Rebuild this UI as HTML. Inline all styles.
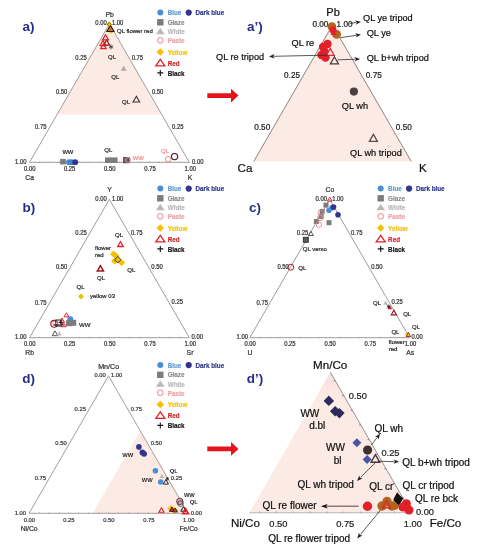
<!DOCTYPE html>
<html><head><meta charset="utf-8"><title>Ternary diagrams</title>
<style>html,body{margin:0;padding:0;background:#fff;} svg{display:block;} text{font-family:'Liberation Sans', Arial, sans-serif;}</style>
</head><body>
<svg width="478" height="550" viewBox="0 0 478 550">
<rect width="478" height="550" fill="#fff"/>
<polygon points="109.4,23.9 161.7,114.4 57.1,114.4" fill="#fcebe4"/>
<polygon points="29.5,162.3 189.3,162.3 109.4,23.9" fill="none" stroke="#a29c9c" stroke-width="1.0"/>
<line x1="39.5" y1="162.3" x2="39.5" y2="161.3" stroke="#8c8686" stroke-width="0.5"/>
<line x1="49.5" y1="162.3" x2="49.5" y2="161.3" stroke="#8c8686" stroke-width="0.5"/>
<line x1="59.5" y1="162.3" x2="59.5" y2="161.3" stroke="#8c8686" stroke-width="0.5"/>
<line x1="69.5" y1="162.3" x2="69.5" y2="161.3" stroke="#8c8686" stroke-width="0.5"/>
<line x1="79.4" y1="162.3" x2="79.4" y2="161.3" stroke="#8c8686" stroke-width="0.5"/>
<line x1="89.4" y1="162.3" x2="89.4" y2="161.3" stroke="#8c8686" stroke-width="0.5"/>
<line x1="99.4" y1="162.3" x2="99.4" y2="161.3" stroke="#8c8686" stroke-width="0.5"/>
<line x1="109.4" y1="162.3" x2="109.4" y2="161.3" stroke="#8c8686" stroke-width="0.5"/>
<line x1="119.4" y1="162.3" x2="119.4" y2="161.3" stroke="#8c8686" stroke-width="0.5"/>
<line x1="129.4" y1="162.3" x2="129.4" y2="161.3" stroke="#8c8686" stroke-width="0.5"/>
<line x1="139.4" y1="162.3" x2="139.4" y2="161.3" stroke="#8c8686" stroke-width="0.5"/>
<line x1="149.4" y1="162.3" x2="149.4" y2="161.3" stroke="#8c8686" stroke-width="0.5"/>
<line x1="159.3" y1="162.3" x2="159.3" y2="161.3" stroke="#8c8686" stroke-width="0.5"/>
<line x1="169.3" y1="162.3" x2="169.3" y2="161.3" stroke="#8c8686" stroke-width="0.5"/>
<line x1="179.3" y1="162.3" x2="179.3" y2="161.3" stroke="#8c8686" stroke-width="0.5"/>
<text x="95.3" y="25.2" font-size="6.3" fill="#333" textLength="11.4" lengthAdjust="spacingAndGlyphs" stroke="#333" stroke-width="0.22">0.00</text>
<text x="111.9" y="25.2" font-size="6.3" fill="#333" textLength="11.4" lengthAdjust="spacingAndGlyphs" stroke="#333" stroke-width="0.22">1.00</text>
<text x="75.3" y="59.5" font-size="6.3" fill="#333" textLength="11.4" lengthAdjust="spacingAndGlyphs" stroke="#333" stroke-width="0.22">0.25</text>
<text x="55.9" y="94.0" font-size="6.3" fill="#333" textLength="11.4" lengthAdjust="spacingAndGlyphs" stroke="#333" stroke-width="0.22">0.50</text>
<text x="35.1" y="129.2" font-size="6.3" fill="#333" textLength="11.4" lengthAdjust="spacingAndGlyphs" stroke="#333" stroke-width="0.22">0.75</text>
<text x="15.0" y="163.8" font-size="6.3" fill="#333" textLength="11.4" lengthAdjust="spacingAndGlyphs" stroke="#333" stroke-width="0.22">1.00</text>
<text x="131.7" y="59.5" font-size="6.3" fill="#333" textLength="11.4" lengthAdjust="spacingAndGlyphs" stroke="#333" stroke-width="0.22">0.75</text>
<text x="151.9" y="93.8" font-size="6.3" fill="#333" textLength="11.4" lengthAdjust="spacingAndGlyphs" stroke="#333" stroke-width="0.22">0.50</text>
<text x="172.1" y="128.8" font-size="6.3" fill="#333" textLength="11.4" lengthAdjust="spacingAndGlyphs" stroke="#333" stroke-width="0.22">0.25</text>
<text x="192.1" y="163.6" font-size="6.3" fill="#333" textLength="11.4" lengthAdjust="spacingAndGlyphs" stroke="#333" stroke-width="0.22">0.00</text>
<text x="24.1" y="170.8" font-size="6.3" fill="#333" textLength="11.4" lengthAdjust="spacingAndGlyphs" stroke="#333" stroke-width="0.22">0.00</text>
<text x="63.9" y="170.8" font-size="6.3" fill="#333" textLength="11.4" lengthAdjust="spacingAndGlyphs" stroke="#333" stroke-width="0.22">0.25</text>
<text x="104.1" y="170.8" font-size="6.3" fill="#333" textLength="11.4" lengthAdjust="spacingAndGlyphs" stroke="#333" stroke-width="0.22">0.50</text>
<text x="144.3" y="170.8" font-size="6.3" fill="#333" textLength="11.4" lengthAdjust="spacingAndGlyphs" stroke="#333" stroke-width="0.22">0.75</text>
<text x="184.5" y="170.8" font-size="6.3" fill="#333" textLength="11.4" lengthAdjust="spacingAndGlyphs" stroke="#333" stroke-width="0.22">1.00</text>
<text x="109.6" y="17.0" font-size="6.8" fill="#333" text-anchor="middle" stroke="#333" stroke-width="0.22">Pb</text>
<text x="29.6" y="180.0" font-size="6.8" fill="#333" text-anchor="middle" stroke="#333" stroke-width="0.22">Ca</text>
<text x="190.0" y="180.0" font-size="6.8" fill="#333" text-anchor="middle" stroke="#333" stroke-width="0.22">K</text>
<circle cx="160.3" cy="12.6" r="3.0" fill="#4a8fd6" stroke="none" stroke-width="0"/>
<text x="167.7" y="15.3" font-size="6.3" fill="#5b9ad5" font-weight="bold" stroke="#5b9ad5" stroke-width="0.15">Blue</text>
<circle cx="188.7" cy="12.6" r="3.1" fill="#33348e" stroke="none" stroke-width="0"/>
<text x="195.5" y="15.3" font-size="6.3" fill="#2e3589" font-weight="bold" stroke="#2e3589" stroke-width="0.15">Dark blue</text>
<rect x="157.1" y="19.1" width="6.4" height="6.4" fill="#7c7c7c" stroke="none" stroke-width="0"/>
<text x="167.7" y="24.8" font-size="6.3" fill="#8a8a8a" font-weight="bold" stroke="#8a8a8a" stroke-width="0.15">Glaze</text>
<polygon points="160.3,27.9 164.7,34.3 155.9,34.3" fill="#b9b9b9" stroke="none" stroke-width="0"/>
<text x="167.7" y="34.1" font-size="6.3" fill="#b8b8b8" font-weight="bold" stroke="#b8b8b8" stroke-width="0.15">White</text>
<circle cx="160.3" cy="40.3" r="2.8" fill="none" stroke="#e8848a" stroke-width="1.0"/>
<text x="167.7" y="43.0" font-size="6.3" fill="#f0a0a2" font-weight="bold" stroke="#f0a0a2" stroke-width="0.15">Paste</text>
<polygon points="160.3,48.2 164.1,52.0 160.3,55.8 156.5,52.0" fill="#f5c000" stroke="none" stroke-width="0"/>
<text x="167.7" y="54.7" font-size="6.3" fill="#f0c010" font-weight="bold" stroke="#f0c010" stroke-width="0.15">Yellow</text>
<polygon points="160.3,59.4 164.8,65.8 155.8,65.8" fill="none" stroke="#e3202a" stroke-width="1.3"/>
<text x="167.7" y="65.5" font-size="6.3" fill="#d82028" font-weight="bold" stroke="#d82028" stroke-width="0.15">Red</text>
<path d="M157.3 72.9H163.3M160.3 69.9V75.9" stroke="#111" stroke-width="1.1"/>
<text x="167.7" y="75.6" font-size="6.3" fill="#111" font-weight="bold" stroke="#111" stroke-width="0.15">Black</text>
<text x="117.0" y="32.5" font-size="6.0" fill="#2a2a2a" stroke="#2a2a2a" stroke-width="0.22">QL flower red</text>
<text x="108.0" y="59.4" font-size="6.0" fill="#2a2a2a" stroke="#2a2a2a" stroke-width="0.22">QL</text>
<text x="111.3" y="79.1" font-size="6.0" fill="#2a2a2a" stroke="#2a2a2a" stroke-width="0.22">QL</text>
<text x="122.0" y="103.9" font-size="6.0" fill="#2a2a2a" stroke="#2a2a2a" stroke-width="0.22">QL</text>
<polygon points="123.7,65.4 126.8,70.7 120.6,70.7" fill="#b4adad" stroke="none" stroke-width="0" stroke-linejoin="miter"/>
<polygon points="136.4,96.3 139.7,102.0 133.1,102.0" fill="none" stroke="#3a3030" stroke-width="1.1" stroke-linejoin="miter"/>
<polygon points="105.5,34.7 108.5,39.9 102.5,39.9" fill="none" stroke="#e3202a" stroke-width="1.25" stroke-linejoin="miter"/>
<polygon points="103.0,40.5 106.0,45.7 100.0,45.7" fill="none" stroke="#e3202a" stroke-width="1.25" stroke-linejoin="miter"/>
<polygon points="106.6,39.9 109.6,45.1 103.6,45.1" fill="none" stroke="#9c1b24" stroke-width="1.25" stroke-linejoin="miter"/>
<polygon points="103.4,43.9 106.2,48.7 100.6,48.7" fill="none" stroke="#e3202a" stroke-width="1.2" stroke-linejoin="miter"/>
<path d="M111.0 44.4L111.0 49.4M113.2 45.6L108.8 48.1M113.2 48.1L108.8 45.6" stroke="#333" stroke-width="0.8"/>
<polygon points="109.2,21.2 112.2,24.2 109.2,27.2 106.2,24.2" fill="#f5c000" stroke="none" stroke-width="0"/>
<polygon points="111.3,29.5 113.6,31.8 111.3,34.1 109.0,31.8" fill="#f5c000" stroke="none" stroke-width="0"/>
<polygon points="110.4,25.3 114.0,31.5 106.8,31.5" fill="#c47a10" stroke="#3a1010" stroke-width="1.1" stroke-linejoin="miter"/>
<polygon points="109.3,22.6 111.3,24.6 109.3,26.6 107.3,24.6" fill="#f5c000" stroke="#222" stroke-width="0.5"/>
<text x="62.4" y="154.3" font-size="5.8" fill="#2a2a2a" stroke="#2a2a2a" stroke-width="0.22">WW</text>
<rect x="60.2" y="158.9" width="5.6" height="5.6" fill="#7c7c7c" stroke="none" stroke-width="0"/>
<circle cx="68.9" cy="162.2" r="2.9" fill="#4a8fd6" stroke="none" stroke-width="0"/>
<circle cx="71.4" cy="162.2" r="2.9" fill="#3f80cf" stroke="none" stroke-width="0"/>
<circle cx="75.2" cy="162.2" r="2.9" fill="#33348e" stroke="none" stroke-width="0"/>
<text x="104.3" y="152.4" font-size="6.0" fill="#2a2a2a" stroke="#2a2a2a" stroke-width="0.22">QL</text>
<rect x="105.0" y="157.4" width="12.6" height="5.6" fill="#7c7c7c"/>
<rect x="123.7" y="157.4" width="5.4" height="5.4" fill="#6a6a6a" stroke="#2a2a2a" stroke-width="0.8"/>
<circle cx="127.8" cy="160.1" r="2.7" fill="none" stroke="#e8848a" stroke-width="0.9"/>
<text x="132.7" y="160.4" font-size="5.8" fill="#f08a8a" stroke="#f08a8a" stroke-width="0.22">WW</text>
<text x="161.0" y="152.9" font-size="6.0" fill="#f08a8a" stroke="#f08a8a" stroke-width="0.22">QL</text>
<circle cx="168.3" cy="159.2" r="2.8" fill="none" stroke="#e8848a" stroke-width="1.0"/>
<circle cx="174.6" cy="156.6" r="3.1" fill="none" stroke="#3a1a1a" stroke-width="1.1"/>
<polygon points="207.3,93.2 231,93.2 231,88.8 238.5,95.6 231,102.4 231,98.0 207.3,98.0" fill="#e3141c"/>
<polygon points="332.5,25 411.3,161.5 253.7,161.5" fill="#fcebe4"/>
<line x1="332.5" y1="25.0" x2="253.7" y2="161.5" stroke="#7c6e6a" stroke-width="0.85"/>
<line x1="332.5" y1="25.0" x2="411.3" y2="161.5" stroke="#7c6e6a" stroke-width="0.85"/>
<text x="247.0" y="31.0" font-size="13.5" fill="#282d8c" font-weight="bold">a’)</text>
<text x="333.1" y="16.1" font-size="11.0" fill="#111" text-anchor="middle" stroke="#111" stroke-width="0.22">Pb</text>
<text x="312.4" y="26.6" font-size="8.2" fill="#222" stroke="#222" stroke-width="0.22">0.00</text>
<text x="336.6" y="26.6" font-size="8.2" fill="#222" stroke="#222" stroke-width="0.22">1.00</text>
<text x="300.0" y="78.2" font-size="8.2" fill="#222" text-anchor="end" stroke="#222" stroke-width="0.22">0.25</text>
<text x="270.2" y="130.3" font-size="8.2" fill="#222" text-anchor="end" stroke="#222" stroke-width="0.22">0.50</text>
<text x="365.8" y="78.4" font-size="8.2" fill="#222" stroke="#222" stroke-width="0.22">0.75</text>
<text x="395.8" y="129.7" font-size="8.2" fill="#222" stroke="#222" stroke-width="0.22">0.50</text>
<text x="237.6" y="172.2" font-size="11.6" fill="#111" stroke="#111" stroke-width="0.22">Ca</text>
<text x="419.0" y="172.0" font-size="11.6" fill="#111" stroke="#111" stroke-width="0.22">K</text>
<text x="363.0" y="21.0" font-size="9.2" fill="#111" stroke="#111" stroke-width="0.22">QL ye tripod</text>
<text x="366.7" y="36.0" font-size="9.2" fill="#111" stroke="#111" stroke-width="0.22">QL ye</text>
<text x="366.7" y="60.5" font-size="9.2" fill="#111" stroke="#111" stroke-width="0.22">QL b+wh tripod</text>
<text x="216.0" y="59.6" font-size="9.2" fill="#111" stroke="#111" stroke-width="0.22">QL re tripod</text>
<text x="291.6" y="46.0" font-size="9.2" fill="#111" stroke="#111" stroke-width="0.22">QL re</text>
<text x="341.8" y="109.2" font-size="9.2" fill="#111" stroke="#111" stroke-width="0.22">QL wh</text>
<text x="350.0" y="156.0" font-size="9.2" fill="#111" stroke="#111" stroke-width="0.22">QL wh tripod</text>
<circle cx="331.9" cy="26.6" r="4.4" fill="#b2651e" stroke="none" stroke-width="0"/>
<circle cx="336.6" cy="34.4" r="4.4" fill="#b2651e" stroke="none" stroke-width="0"/>
<circle cx="333.0" cy="30.0" r="3.6" fill="#e3202a" stroke="none" stroke-width="0"/>
<polygon points="333.4,29.9 336.4,35.1 330.4,35.1" fill="#e3202a" stroke="none" stroke-width="0" stroke-linejoin="miter"/>
<circle cx="327.5" cy="44.0" r="4.2" fill="#e3202a" stroke="none" stroke-width="0"/>
<circle cx="323.0" cy="47.0" r="4.2" fill="#e3202a" stroke="none" stroke-width="0"/>
<circle cx="324.5" cy="51.5" r="4.2" fill="#e3202a" stroke="none" stroke-width="0"/>
<circle cx="321.5" cy="55.0" r="4.2" fill="#e3202a" stroke="none" stroke-width="0"/>
<circle cx="325.5" cy="57.5" r="4.2" fill="#e3202a" stroke="none" stroke-width="0"/>
<polygon points="330.2,48.4 334.2,55.4 326.2,55.4" fill="#fbe5e5" stroke="#e3202a" stroke-width="1.2" stroke-linejoin="miter"/>
<polygon points="334.4,56.8 338.4,63.8 330.4,63.8" fill="none" stroke="#4a3a3a" stroke-width="1.3" stroke-linejoin="miter"/>
<circle cx="353.9" cy="91.6" r="4.1" fill="#4a4042" stroke="none" stroke-width="0"/>
<polygon points="373.4,134.4 377.4,141.4 369.4,141.4" fill="none" stroke="#5a4a4a" stroke-width="1.3" stroke-linejoin="miter"/>
<line x1="349.8" y1="23.5" x2="356.1" y2="22.5" stroke="#222" stroke-width="0.75"/>
<polygon points="361.0,21.7 355.9,24.7 356.8,22.4 355.2,20.4" fill="#222"/>
<line x1="340.4" y1="37.7" x2="356.1" y2="35.3" stroke="#222" stroke-width="0.75"/>
<polygon points="361.0,34.5 355.9,37.5 356.8,35.2 355.2,33.2" fill="#222"/>
<line x1="337.5" y1="59.9" x2="355.1" y2="59.2" stroke="#222" stroke-width="0.75"/>
<polygon points="360.1,59.0 354.7,61.4 355.8,59.2 354.5,57.0" fill="#222"/>
<line x1="328.0" y1="55.1" x2="274.0" y2="56.3" stroke="#222" stroke-width="0.75"/>
<polygon points="269.0,56.4 274.5,54.1 273.3,56.3 274.5,58.5" fill="#222"/>
<polygon points="29.5,337.7 189.3,337.7 109.4,199.3" fill="none" stroke="#a29c9c" stroke-width="1.0"/>
<line x1="39.5" y1="337.7" x2="39.5" y2="336.7" stroke="#8c8686" stroke-width="0.5"/>
<line x1="49.5" y1="337.7" x2="49.5" y2="336.7" stroke="#8c8686" stroke-width="0.5"/>
<line x1="59.5" y1="337.7" x2="59.5" y2="336.7" stroke="#8c8686" stroke-width="0.5"/>
<line x1="69.5" y1="337.7" x2="69.5" y2="336.7" stroke="#8c8686" stroke-width="0.5"/>
<line x1="79.4" y1="337.7" x2="79.4" y2="336.7" stroke="#8c8686" stroke-width="0.5"/>
<line x1="89.4" y1="337.7" x2="89.4" y2="336.7" stroke="#8c8686" stroke-width="0.5"/>
<line x1="99.4" y1="337.7" x2="99.4" y2="336.7" stroke="#8c8686" stroke-width="0.5"/>
<line x1="109.4" y1="337.7" x2="109.4" y2="336.7" stroke="#8c8686" stroke-width="0.5"/>
<line x1="119.4" y1="337.7" x2="119.4" y2="336.7" stroke="#8c8686" stroke-width="0.5"/>
<line x1="129.4" y1="337.7" x2="129.4" y2="336.7" stroke="#8c8686" stroke-width="0.5"/>
<line x1="139.4" y1="337.7" x2="139.4" y2="336.7" stroke="#8c8686" stroke-width="0.5"/>
<line x1="149.4" y1="337.7" x2="149.4" y2="336.7" stroke="#8c8686" stroke-width="0.5"/>
<line x1="159.3" y1="337.7" x2="159.3" y2="336.7" stroke="#8c8686" stroke-width="0.5"/>
<line x1="169.3" y1="337.7" x2="169.3" y2="336.7" stroke="#8c8686" stroke-width="0.5"/>
<line x1="179.3" y1="337.7" x2="179.3" y2="336.7" stroke="#8c8686" stroke-width="0.5"/>
<text x="95.3" y="200.6" font-size="6.3" fill="#333" textLength="11.4" lengthAdjust="spacingAndGlyphs" stroke="#333" stroke-width="0.22">0.00</text>
<text x="111.9" y="200.6" font-size="6.3" fill="#333" textLength="11.4" lengthAdjust="spacingAndGlyphs" stroke="#333" stroke-width="0.22">1.00</text>
<text x="75.3" y="234.9" font-size="6.3" fill="#333" textLength="11.4" lengthAdjust="spacingAndGlyphs" stroke="#333" stroke-width="0.22">0.25</text>
<text x="55.9" y="269.4" font-size="6.3" fill="#333" textLength="11.4" lengthAdjust="spacingAndGlyphs" stroke="#333" stroke-width="0.22">0.50</text>
<text x="35.1" y="304.6" font-size="6.3" fill="#333" textLength="11.4" lengthAdjust="spacingAndGlyphs" stroke="#333" stroke-width="0.22">0.75</text>
<text x="15.0" y="339.2" font-size="6.3" fill="#333" textLength="11.4" lengthAdjust="spacingAndGlyphs" stroke="#333" stroke-width="0.22">1.00</text>
<text x="131.1" y="234.9" font-size="6.3" fill="#333" textLength="11.4" lengthAdjust="spacingAndGlyphs" stroke="#333" stroke-width="0.22">0.75</text>
<text x="151.3" y="269.2" font-size="6.3" fill="#333" textLength="11.4" lengthAdjust="spacingAndGlyphs" stroke="#333" stroke-width="0.22">0.50</text>
<text x="171.5" y="304.2" font-size="6.3" fill="#333" textLength="11.4" lengthAdjust="spacingAndGlyphs" stroke="#333" stroke-width="0.22">0.25</text>
<text x="191.5" y="339.0" font-size="6.3" fill="#333" textLength="11.4" lengthAdjust="spacingAndGlyphs" stroke="#333" stroke-width="0.22">0.00</text>
<text x="24.1" y="346.2" font-size="6.3" fill="#333" textLength="11.4" lengthAdjust="spacingAndGlyphs" stroke="#333" stroke-width="0.22">0.00</text>
<text x="63.9" y="346.2" font-size="6.3" fill="#333" textLength="11.4" lengthAdjust="spacingAndGlyphs" stroke="#333" stroke-width="0.22">0.25</text>
<text x="104.1" y="346.2" font-size="6.3" fill="#333" textLength="11.4" lengthAdjust="spacingAndGlyphs" stroke="#333" stroke-width="0.22">0.50</text>
<text x="144.3" y="346.2" font-size="6.3" fill="#333" textLength="11.4" lengthAdjust="spacingAndGlyphs" stroke="#333" stroke-width="0.22">0.75</text>
<text x="184.5" y="346.2" font-size="6.3" fill="#333" textLength="11.4" lengthAdjust="spacingAndGlyphs" stroke="#333" stroke-width="0.22">1.00</text>
<text x="109.6" y="192.4" font-size="6.8" fill="#333" text-anchor="middle" stroke="#333" stroke-width="0.22">Y</text>
<text x="29.6" y="355.4" font-size="6.8" fill="#333" text-anchor="middle" stroke="#333" stroke-width="0.22">Rb</text>
<text x="190.0" y="355.4" font-size="6.8" fill="#333" text-anchor="middle" stroke="#333" stroke-width="0.22">Sr</text>
<circle cx="160.3" cy="188.6" r="3.0" fill="#4a8fd6" stroke="none" stroke-width="0"/>
<text x="167.7" y="191.3" font-size="6.3" fill="#5b9ad5" font-weight="bold" stroke="#5b9ad5" stroke-width="0.15">Blue</text>
<circle cx="188.7" cy="188.6" r="3.1" fill="#33348e" stroke="none" stroke-width="0"/>
<text x="195.5" y="191.3" font-size="6.3" fill="#2e3589" font-weight="bold" stroke="#2e3589" stroke-width="0.15">Dark blue</text>
<rect x="157.1" y="195.1" width="6.4" height="6.4" fill="#7c7c7c" stroke="none" stroke-width="0"/>
<text x="167.7" y="200.8" font-size="6.3" fill="#8a8a8a" font-weight="bold" stroke="#8a8a8a" stroke-width="0.15">Glaze</text>
<polygon points="160.3,203.9 164.7,210.3 155.9,210.3" fill="#b9b9b9" stroke="none" stroke-width="0"/>
<text x="167.7" y="210.1" font-size="6.3" fill="#b8b8b8" font-weight="bold" stroke="#b8b8b8" stroke-width="0.15">White</text>
<circle cx="160.3" cy="216.3" r="2.8" fill="none" stroke="#e8848a" stroke-width="1.0"/>
<text x="167.7" y="219.0" font-size="6.3" fill="#f0a0a2" font-weight="bold" stroke="#f0a0a2" stroke-width="0.15">Paste</text>
<polygon points="160.3,224.2 164.1,228.0 160.3,231.8 156.5,228.0" fill="#f5c000" stroke="none" stroke-width="0"/>
<text x="167.7" y="230.7" font-size="6.3" fill="#f0c010" font-weight="bold" stroke="#f0c010" stroke-width="0.15">Yellow</text>
<polygon points="160.3,235.4 164.8,241.8 155.8,241.8" fill="none" stroke="#e3202a" stroke-width="1.3"/>
<text x="167.7" y="241.5" font-size="6.3" fill="#d82028" font-weight="bold" stroke="#d82028" stroke-width="0.15">Red</text>
<path d="M157.3 248.9H163.3M160.3 245.9V251.9" stroke="#111" stroke-width="1.1"/>
<text x="167.7" y="251.6" font-size="6.3" fill="#111" font-weight="bold" stroke="#111" stroke-width="0.15">Black</text>
<text x="115.0" y="236.9" font-size="6.0" fill="#2a2a2a" stroke="#2a2a2a" stroke-width="0.22">QL</text>
<polygon points="120.4,241.7 123.2,246.5 117.6,246.5" fill="none" stroke="#e3202a" stroke-width="1.3" stroke-linejoin="miter"/>
<text x="95.0" y="249.9" font-size="6.0" fill="#2a2a2a" stroke="#2a2a2a" stroke-width="0.22">flower</text>
<text x="95.0" y="256.7" font-size="6.0" fill="#2a2a2a" stroke="#2a2a2a" stroke-width="0.22">red</text>
<polygon points="113.5,250.4 117.0,253.9 113.5,257.4 110.0,253.9" fill="#f5c000" stroke="none" stroke-width="0"/>
<polygon points="116.2,252.6 119.7,256.1 116.2,259.6 112.7,256.1" fill="#f5c000" stroke="none" stroke-width="0"/>
<polygon points="114.6,257.5 118.1,261.0 114.6,264.5 111.1,261.0" fill="#f5c000" stroke="none" stroke-width="0"/>
<polygon points="121.7,259.2 125.2,262.7 121.7,266.2 118.2,262.7" fill="#f5c000" stroke="none" stroke-width="0"/>
<polygon points="117.8,256.5 121.0,259.7 117.8,262.9 114.6,259.7" fill="#f5c000" stroke="#222" stroke-width="0.9"/>
<text x="127.3" y="272.0" font-size="6.0" fill="#2a2a2a" stroke="#2a2a2a" stroke-width="0.22">QL</text>
<polygon points="100.4,265.7 103.5,271.0 97.3,271.0" fill="none" stroke="#9c1b24" stroke-width="1.5" stroke-linejoin="miter"/>
<text x="97.0" y="279.6" font-size="6.0" fill="#2a2a2a" stroke="#2a2a2a" stroke-width="0.22">QL</text>
<text x="76.6" y="289.2" font-size="6.0" fill="#2a2a2a" stroke="#2a2a2a" stroke-width="0.22">QL</text>
<polygon points="81.0,293.5 84.0,296.5 81.0,299.5 78.0,296.5" fill="#f5c000" stroke="none" stroke-width="0"/>
<text x="90.0" y="298.4" font-size="6.0" fill="#2a2a2a" stroke="#2a2a2a" stroke-width="0.22">yellow 03</text>
<circle cx="70.3" cy="319.3" r="3.0" fill="#4a8fd6" stroke="none" stroke-width="0"/>
<rect x="66.0" y="320.2" width="6.0" height="6.0" fill="#7c7c7c" stroke="none" stroke-width="0"/>
<rect x="70.2" y="319.8" width="6.0" height="6.0" fill="#7c7c7c" stroke="none" stroke-width="0"/>
<polygon points="66.4,312.8 68.7,316.8 64.1,316.8" fill="none" stroke="#e3202a" stroke-width="1.0" stroke-linejoin="miter"/>
<circle cx="54.2" cy="323.8" r="3.4" fill="none" stroke="#9c1b24" stroke-width="1.1"/>
<circle cx="55.2" cy="323.5" r="2.4" fill="none" stroke="#e8848a" stroke-width="0.9"/>
<rect x="55.8" y="320.0" width="6.0" height="6.0" fill="none" stroke="#222" stroke-width="1.0"/>
<polygon points="62.0,318.0 64.5,322.3 59.5,322.3" fill="none" stroke="#e3202a" stroke-width="1.0" stroke-linejoin="miter"/>
<polygon points="63.4,322.4 65.9,326.7 60.9,326.7" fill="none" stroke="#e3202a" stroke-width="1.0" stroke-linejoin="miter"/>
<line x1="53.5" y1="324.9" x2="64.0" y2="324.9" stroke="#111" stroke-width="0.9"/>
<path d="M58.5 322.5H62.5M60.5 320.5V324.5" stroke="#111" stroke-width="0.8"/>
<text x="79.0" y="327.1" font-size="6.2" fill="#2a2a2a" stroke="#2a2a2a" stroke-width="0.22">WW</text>
<polygon points="55.0,330.9 57.8,335.7 52.2,335.7" fill="none" stroke="#555" stroke-width="1.0" stroke-linejoin="miter"/>
<polygon points="59.1,331.2 61.6,335.5 56.6,335.5" fill="#b9b9b9" stroke="none" stroke-width="0" stroke-linejoin="miter"/>
<polygon points="249.8,337.7 409.6,337.7 329.7,199.3" fill="none" stroke="#a29c9c" stroke-width="1.0"/>
<line x1="259.8" y1="337.7" x2="259.8" y2="336.7" stroke="#8c8686" stroke-width="0.5"/>
<line x1="269.8" y1="337.7" x2="269.8" y2="336.7" stroke="#8c8686" stroke-width="0.5"/>
<line x1="279.8" y1="337.7" x2="279.8" y2="336.7" stroke="#8c8686" stroke-width="0.5"/>
<line x1="289.8" y1="337.7" x2="289.8" y2="336.7" stroke="#8c8686" stroke-width="0.5"/>
<line x1="299.7" y1="337.7" x2="299.7" y2="336.7" stroke="#8c8686" stroke-width="0.5"/>
<line x1="309.7" y1="337.7" x2="309.7" y2="336.7" stroke="#8c8686" stroke-width="0.5"/>
<line x1="319.7" y1="337.7" x2="319.7" y2="336.7" stroke="#8c8686" stroke-width="0.5"/>
<line x1="329.7" y1="337.7" x2="329.7" y2="336.7" stroke="#8c8686" stroke-width="0.5"/>
<line x1="339.7" y1="337.7" x2="339.7" y2="336.7" stroke="#8c8686" stroke-width="0.5"/>
<line x1="349.7" y1="337.7" x2="349.7" y2="336.7" stroke="#8c8686" stroke-width="0.5"/>
<line x1="359.7" y1="337.7" x2="359.7" y2="336.7" stroke="#8c8686" stroke-width="0.5"/>
<line x1="369.7" y1="337.7" x2="369.7" y2="336.7" stroke="#8c8686" stroke-width="0.5"/>
<line x1="379.6" y1="337.7" x2="379.6" y2="336.7" stroke="#8c8686" stroke-width="0.5"/>
<line x1="389.6" y1="337.7" x2="389.6" y2="336.7" stroke="#8c8686" stroke-width="0.5"/>
<line x1="399.6" y1="337.7" x2="399.6" y2="336.7" stroke="#8c8686" stroke-width="0.5"/>
<text x="315.6" y="200.6" font-size="6.3" fill="#333" textLength="11.4" lengthAdjust="spacingAndGlyphs" stroke="#333" stroke-width="0.22">0.00</text>
<text x="332.2" y="200.6" font-size="6.3" fill="#333" textLength="11.4" lengthAdjust="spacingAndGlyphs" stroke="#333" stroke-width="0.22">1.00</text>
<text x="296.8" y="234.9" font-size="6.3" fill="#333" textLength="11.4" lengthAdjust="spacingAndGlyphs" stroke="#333" stroke-width="0.22">0.25</text>
<text x="277.4" y="269.4" font-size="6.3" fill="#333" textLength="11.4" lengthAdjust="spacingAndGlyphs" stroke="#333" stroke-width="0.22">0.50</text>
<text x="256.6" y="304.6" font-size="6.3" fill="#333" textLength="11.4" lengthAdjust="spacingAndGlyphs" stroke="#333" stroke-width="0.22">0.75</text>
<text x="236.5" y="339.2" font-size="6.3" fill="#333" textLength="11.4" lengthAdjust="spacingAndGlyphs" stroke="#333" stroke-width="0.22">1.00</text>
<text x="351.0" y="234.9" font-size="6.3" fill="#333" textLength="11.4" lengthAdjust="spacingAndGlyphs" stroke="#333" stroke-width="0.22">0.75</text>
<text x="371.2" y="269.2" font-size="6.3" fill="#333" textLength="11.4" lengthAdjust="spacingAndGlyphs" stroke="#333" stroke-width="0.22">0.50</text>
<text x="391.4" y="304.2" font-size="6.3" fill="#333" textLength="11.4" lengthAdjust="spacingAndGlyphs" stroke="#333" stroke-width="0.22">0.25</text>
<text x="411.4" y="339.0" font-size="6.3" fill="#333" textLength="11.4" lengthAdjust="spacingAndGlyphs" stroke="#333" stroke-width="0.22">0.00</text>
<text x="244.4" y="346.2" font-size="6.3" fill="#333" textLength="11.4" lengthAdjust="spacingAndGlyphs" stroke="#333" stroke-width="0.22">0.00</text>
<text x="284.2" y="346.2" font-size="6.3" fill="#333" textLength="11.4" lengthAdjust="spacingAndGlyphs" stroke="#333" stroke-width="0.22">0.25</text>
<text x="324.4" y="346.2" font-size="6.3" fill="#333" textLength="11.4" lengthAdjust="spacingAndGlyphs" stroke="#333" stroke-width="0.22">0.50</text>
<text x="364.6" y="346.2" font-size="6.3" fill="#333" textLength="11.4" lengthAdjust="spacingAndGlyphs" stroke="#333" stroke-width="0.22">0.75</text>
<text x="404.8" y="346.2" font-size="6.3" fill="#333" textLength="11.4" lengthAdjust="spacingAndGlyphs" stroke="#333" stroke-width="0.22">1.00</text>
<text x="329.9" y="192.4" font-size="6.8" fill="#333" text-anchor="middle" stroke="#333" stroke-width="0.22">Co</text>
<text x="249.9" y="355.4" font-size="6.8" fill="#333" text-anchor="middle" stroke="#333" stroke-width="0.22">U</text>
<text x="410.3" y="355.4" font-size="6.8" fill="#333" text-anchor="middle" stroke="#333" stroke-width="0.22">As</text>
<circle cx="380.7" cy="188.6" r="3.0" fill="#4a8fd6" stroke="none" stroke-width="0"/>
<text x="388.1" y="191.3" font-size="6.3" fill="#5b9ad5" font-weight="bold" stroke="#5b9ad5" stroke-width="0.15">Blue</text>
<circle cx="409.1" cy="188.6" r="3.1" fill="#33348e" stroke="none" stroke-width="0"/>
<text x="415.9" y="191.3" font-size="6.3" fill="#2e3589" font-weight="bold" stroke="#2e3589" stroke-width="0.15">Dark blue</text>
<rect x="377.5" y="195.1" width="6.4" height="6.4" fill="#7c7c7c" stroke="none" stroke-width="0"/>
<text x="388.1" y="200.8" font-size="6.3" fill="#8a8a8a" font-weight="bold" stroke="#8a8a8a" stroke-width="0.15">Glaze</text>
<polygon points="380.7,203.9 385.1,210.3 376.3,210.3" fill="#b9b9b9" stroke="none" stroke-width="0"/>
<text x="388.1" y="210.1" font-size="6.3" fill="#b8b8b8" font-weight="bold" stroke="#b8b8b8" stroke-width="0.15">White</text>
<circle cx="380.7" cy="216.3" r="2.8" fill="none" stroke="#e8848a" stroke-width="1.0"/>
<text x="388.1" y="219.0" font-size="6.3" fill="#f0a0a2" font-weight="bold" stroke="#f0a0a2" stroke-width="0.15">Paste</text>
<polygon points="380.7,224.2 384.5,228.0 380.7,231.8 376.9,228.0" fill="#f5c000" stroke="none" stroke-width="0"/>
<text x="388.1" y="230.7" font-size="6.3" fill="#f0c010" font-weight="bold" stroke="#f0c010" stroke-width="0.15">Yellow</text>
<polygon points="380.7,235.4 385.2,241.8 376.2,241.8" fill="none" stroke="#e3202a" stroke-width="1.3"/>
<text x="388.1" y="241.5" font-size="6.3" fill="#d82028" font-weight="bold" stroke="#d82028" stroke-width="0.15">Red</text>
<path d="M377.7 248.9H383.7M380.7 245.9V251.9" stroke="#111" stroke-width="1.1"/>
<text x="388.1" y="251.6" font-size="6.3" fill="#111" font-weight="bold" stroke="#111" stroke-width="0.15">Black</text>
<polygon points="329.7,197.0 332.1,201.2 327.3,201.2" fill="none" stroke="#e3202a" stroke-width="0.9" stroke-linejoin="miter"/>
<rect x="323.5" y="202.6" width="5.0" height="5.0" fill="#7c7c7c" stroke="none" stroke-width="0"/>
<rect x="319.7" y="208.9" width="5.0" height="5.0" fill="#7c7c7c" stroke="none" stroke-width="0"/>
<rect x="313.9" y="219.0" width="5.0" height="5.0" fill="#7c7c7c" stroke="none" stroke-width="0"/>
<rect x="326.5" y="220.2" width="5.0" height="5.0" fill="#7c7c7c" stroke="none" stroke-width="0"/>
<circle cx="329.0" cy="210.2" r="2.8" fill="#4a8fd6" stroke="none" stroke-width="0"/>
<circle cx="332.2" cy="207.6" r="2.8" fill="#4a8fd6" stroke="none" stroke-width="0"/>
<circle cx="333.5" cy="207.1" r="2.8" fill="#33348e" stroke="none" stroke-width="0"/>
<circle cx="338.0" cy="214.7" r="2.8" fill="#33348e" stroke="none" stroke-width="0"/>
<rect x="318.7" y="213.9" width="5.0" height="5.0" fill="#7c7c7c" stroke="none" stroke-width="0"/>
<circle cx="320.9" cy="212.7" r="2.7" fill="none" stroke="#e8848a" stroke-width="0.9"/>
<circle cx="320.1" cy="218.0" r="2.7" fill="none" stroke="#e8848a" stroke-width="0.9"/>
<circle cx="318.9" cy="224.7" r="2.7" fill="none" stroke="#e8848a" stroke-width="0.9"/>
<polygon points="310.9,231.2 313.4,235.5 308.4,235.5" fill="none" stroke="#444" stroke-width="0.9" stroke-linejoin="miter"/>
<rect x="303.3" y="237.3" width="5.0" height="5.0" fill="#5a5a5a" stroke="#222" stroke-width="0.8"/>
<text x="302.8" y="251.1" font-size="6.0" fill="#2a2a2a" stroke="#2a2a2a" stroke-width="0.22">QL verso</text>
<circle cx="290.8" cy="267.2" r="3.0" fill="none" stroke="#9c1b24" stroke-width="1.0"/>
<text x="298.3" y="269.5" font-size="6.0" fill="#2a2a2a" stroke="#2a2a2a" stroke-width="0.22">QL</text>
<text x="373.0" y="304.7" font-size="6.0" fill="#2a2a2a" stroke="#2a2a2a" stroke-width="0.22">QL</text>
<polygon points="385.6,300.5 388.0,304.7 383.2,304.7" fill="#b9b9b9" stroke="none" stroke-width="0" stroke-linejoin="miter"/>
<polygon points="389.8,305.0 392.2,309.2 387.4,309.2" fill="#e3202a" stroke="none" stroke-width="0" stroke-linejoin="miter"/>
<path d="M388.4 304.5L388.4 308.5M390.1 305.5L386.7 307.5M390.1 307.5L386.7 305.5" stroke="#111" stroke-width="0.7"/>
<polygon points="393.9,310.2 396.6,314.9 391.2,314.9" fill="none" stroke="#9c1b24" stroke-width="1.1" stroke-linejoin="miter"/>
<text x="403.2" y="316.0" font-size="6.0" fill="#2a2a2a" stroke="#2a2a2a" stroke-width="0.22">QL</text>
<text x="412.0" y="328.6" font-size="6.0" fill="#2a2a2a" stroke="#2a2a2a" stroke-width="0.22">QL</text>
<text x="391.4" y="333.6" font-size="6.0" fill="#2a2a2a" stroke="#2a2a2a" stroke-width="0.22">QL</text>
<polygon points="407.7,332.1 410.2,334.6 407.7,337.1 405.2,334.6" fill="#f5c000" stroke="none" stroke-width="0"/>
<polygon points="408.4,332.6 410.7,336.6 406.1,336.6" fill="none" stroke="#9c1b24" stroke-width="0.9" stroke-linejoin="miter"/>
<text x="388.7" y="344.4" font-size="6.0" fill="#2a2a2a" stroke="#2a2a2a" stroke-width="0.22">flower</text>
<text x="388.7" y="351.2" font-size="6.0" fill="#2a2a2a" stroke="#2a2a2a" stroke-width="0.22">red</text>
<polygon points="92.6,513.3 187.9,513.3 140.26,430.8" fill="#fcebe4"/>
<g transform="translate(-0.214,352.022) scale(0.9937)">
<polygon points="29.5,162.3 189.3,162.3 109.4,23.9" fill="none" stroke="#a29c9c" stroke-width="1.0"/>
<line x1="39.5" y1="162.3" x2="39.5" y2="161.3" stroke="#8c8686" stroke-width="0.5"/>
<line x1="49.5" y1="162.3" x2="49.5" y2="161.3" stroke="#8c8686" stroke-width="0.5"/>
<line x1="59.5" y1="162.3" x2="59.5" y2="161.3" stroke="#8c8686" stroke-width="0.5"/>
<line x1="69.5" y1="162.3" x2="69.5" y2="161.3" stroke="#8c8686" stroke-width="0.5"/>
<line x1="79.4" y1="162.3" x2="79.4" y2="161.3" stroke="#8c8686" stroke-width="0.5"/>
<line x1="89.4" y1="162.3" x2="89.4" y2="161.3" stroke="#8c8686" stroke-width="0.5"/>
<line x1="99.4" y1="162.3" x2="99.4" y2="161.3" stroke="#8c8686" stroke-width="0.5"/>
<line x1="109.4" y1="162.3" x2="109.4" y2="161.3" stroke="#8c8686" stroke-width="0.5"/>
<line x1="119.4" y1="162.3" x2="119.4" y2="161.3" stroke="#8c8686" stroke-width="0.5"/>
<line x1="129.4" y1="162.3" x2="129.4" y2="161.3" stroke="#8c8686" stroke-width="0.5"/>
<line x1="139.4" y1="162.3" x2="139.4" y2="161.3" stroke="#8c8686" stroke-width="0.5"/>
<line x1="149.4" y1="162.3" x2="149.4" y2="161.3" stroke="#8c8686" stroke-width="0.5"/>
<line x1="159.3" y1="162.3" x2="159.3" y2="161.3" stroke="#8c8686" stroke-width="0.5"/>
<line x1="169.3" y1="162.3" x2="169.3" y2="161.3" stroke="#8c8686" stroke-width="0.5"/>
<line x1="179.3" y1="162.3" x2="179.3" y2="161.3" stroke="#8c8686" stroke-width="0.5"/>
<text x="95.3" y="25.2" font-size="6.3" fill="#333" textLength="11.4" lengthAdjust="spacingAndGlyphs" stroke="#333" stroke-width="0.22">0.00</text>
<text x="111.9" y="25.2" font-size="6.3" fill="#333" textLength="11.4" lengthAdjust="spacingAndGlyphs" stroke="#333" stroke-width="0.22">1.00</text>
<text x="75.3" y="59.5" font-size="6.3" fill="#333" textLength="11.4" lengthAdjust="spacingAndGlyphs" stroke="#333" stroke-width="0.22">0.25</text>
<text x="55.9" y="94.0" font-size="6.3" fill="#333" textLength="11.4" lengthAdjust="spacingAndGlyphs" stroke="#333" stroke-width="0.22">0.50</text>
<text x="35.1" y="129.2" font-size="6.3" fill="#333" textLength="11.4" lengthAdjust="spacingAndGlyphs" stroke="#333" stroke-width="0.22">0.75</text>
<text x="15.0" y="163.8" font-size="6.3" fill="#333" textLength="11.4" lengthAdjust="spacingAndGlyphs" stroke="#333" stroke-width="0.22">1.00</text>
<text x="131.7" y="59.5" font-size="6.3" fill="#333" textLength="11.4" lengthAdjust="spacingAndGlyphs" stroke="#333" stroke-width="0.22">0.75</text>
<text x="151.9" y="93.8" font-size="6.3" fill="#333" textLength="11.4" lengthAdjust="spacingAndGlyphs" stroke="#333" stroke-width="0.22">0.50</text>
<text x="172.1" y="128.8" font-size="6.3" fill="#333" textLength="11.4" lengthAdjust="spacingAndGlyphs" stroke="#333" stroke-width="0.22">0.25</text>
<text x="192.1" y="163.6" font-size="6.3" fill="#333" textLength="11.4" lengthAdjust="spacingAndGlyphs" stroke="#333" stroke-width="0.22">0.00</text>
<text x="24.1" y="170.8" font-size="6.3" fill="#333" textLength="11.4" lengthAdjust="spacingAndGlyphs" stroke="#333" stroke-width="0.22">0.00</text>
<text x="63.9" y="170.8" font-size="6.3" fill="#333" textLength="11.4" lengthAdjust="spacingAndGlyphs" stroke="#333" stroke-width="0.22">0.25</text>
<text x="104.1" y="170.8" font-size="6.3" fill="#333" textLength="11.4" lengthAdjust="spacingAndGlyphs" stroke="#333" stroke-width="0.22">0.50</text>
<text x="144.3" y="170.8" font-size="6.3" fill="#333" textLength="11.4" lengthAdjust="spacingAndGlyphs" stroke="#333" stroke-width="0.22">0.75</text>
<text x="184.5" y="170.8" font-size="6.3" fill="#333" textLength="11.4" lengthAdjust="spacingAndGlyphs" stroke="#333" stroke-width="0.22">1.00</text>
<text x="109.6" y="17.0" font-size="7.2" fill="#333" text-anchor="middle" stroke="#333" stroke-width="0.22">Mn/Co</text>
<text x="29.6" y="180.0" font-size="6.8" fill="#333" text-anchor="middle" stroke="#333" stroke-width="0.22">Ni/Co</text>
<text x="190.0" y="180.0" font-size="6.8" fill="#333" text-anchor="middle" stroke="#333" stroke-width="0.22">Fe/Co</text>
</g>
<circle cx="160.3" cy="365.1" r="3.0" fill="#4a8fd6" stroke="none" stroke-width="0"/>
<text x="167.7" y="367.8" font-size="6.3" fill="#5b9ad5" font-weight="bold" stroke="#5b9ad5" stroke-width="0.15">Blue</text>
<circle cx="188.7" cy="365.1" r="3.1" fill="#33348e" stroke="none" stroke-width="0"/>
<text x="195.5" y="367.8" font-size="6.3" fill="#2e3589" font-weight="bold" stroke="#2e3589" stroke-width="0.15">Dark blue</text>
<rect x="157.1" y="371.6" width="6.4" height="6.4" fill="#7c7c7c" stroke="none" stroke-width="0"/>
<text x="167.7" y="377.3" font-size="6.3" fill="#8a8a8a" font-weight="bold" stroke="#8a8a8a" stroke-width="0.15">Glaze</text>
<polygon points="160.3,380.4 164.7,386.8 155.9,386.8" fill="#b9b9b9" stroke="none" stroke-width="0"/>
<text x="167.7" y="386.6" font-size="6.3" fill="#b8b8b8" font-weight="bold" stroke="#b8b8b8" stroke-width="0.15">White</text>
<circle cx="160.3" cy="392.8" r="2.8" fill="none" stroke="#e8848a" stroke-width="1.0"/>
<text x="167.7" y="395.5" font-size="6.3" fill="#f0a0a2" font-weight="bold" stroke="#f0a0a2" stroke-width="0.15">Paste</text>
<polygon points="160.3,400.7 164.1,404.5 160.3,408.3 156.5,404.5" fill="#f5c000" stroke="none" stroke-width="0"/>
<text x="167.7" y="407.2" font-size="6.3" fill="#f0c010" font-weight="bold" stroke="#f0c010" stroke-width="0.15">Yellow</text>
<polygon points="160.3,411.9 164.8,418.3 155.8,418.3" fill="none" stroke="#e3202a" stroke-width="1.3"/>
<text x="167.7" y="418.0" font-size="6.3" fill="#d82028" font-weight="bold" stroke="#d82028" stroke-width="0.15">Red</text>
<path d="M157.3 425.4H163.3M160.3 422.4V428.4" stroke="#111" stroke-width="1.1"/>
<text x="167.7" y="428.1" font-size="6.3" fill="#111" font-weight="bold" stroke="#111" stroke-width="0.15">Black</text>
<circle cx="138.9" cy="446.9" r="2.8" fill="#33348e" stroke="none" stroke-width="0"/>
<circle cx="142.4" cy="452.5" r="2.9" fill="#33348e" stroke="none" stroke-width="0"/>
<circle cx="144.1" cy="453.8" r="2.9" fill="#33348e" stroke="none" stroke-width="0"/>
<text x="122.3" y="457.1" font-size="5.8" fill="#2a2a2a" font-weight="bold">WW</text>
<circle cx="155.4" cy="470.8" r="2.8" fill="#4a8fd6" stroke="none" stroke-width="0"/>
<text x="169.8" y="472.6" font-size="5.8" fill="#2a2a2a" font-weight="bold">QL</text>
<text x="141.7" y="482.3" font-size="5.8" fill="#2a2a2a" font-weight="bold">WW</text>
<polygon points="161.9,473.9 164.3,478.1 159.5,478.1" fill="#b9b9b9" stroke="none" stroke-width="0" stroke-linejoin="miter"/>
<circle cx="160.7" cy="482.0" r="2.8" fill="#4a8fd6" stroke="none" stroke-width="0"/>
<polygon points="165.9,479.6 168.5,484.1 163.3,484.1" fill="none" stroke="#111" stroke-width="0.9" stroke-linejoin="miter"/>
<path d="M167.3 476.9L167.3 480.5M168.9 477.8L165.7 479.6M168.9 479.6L165.7 477.8" stroke="#111" stroke-width="0.7"/>
<text x="183.9" y="497.2" font-size="5.8" fill="#2a2a2a" font-weight="bold">WW</text>
<text x="189.7" y="503.5" font-size="5.8" fill="#2a2a2a" font-weight="bold">QL</text>
<circle cx="179.8" cy="501.4" r="3.2" fill="#e8a0a8" stroke="#333" stroke-width="0.9"/>
<circle cx="180.5" cy="503.6" r="2.8" fill="none" stroke="#333" stroke-width="0.8"/>
<polygon points="161.5,507.8 164.1,512.3 158.9,512.3" fill="none" stroke="#e3202a" stroke-width="1.1" stroke-linejoin="miter"/>
<polygon points="170.8,505.1 174.3,508.6 170.8,512.1 167.3,508.6" fill="#f5c000" stroke="none" stroke-width="0"/>
<polygon points="174.6,506.7 178.1,510.2 174.6,513.7 171.1,510.2" fill="#f5c000" stroke="none" stroke-width="0"/>
<polygon points="172.0,506.9 174.6,511.4 169.4,511.4" fill="#e3202a" stroke="#111" stroke-width="0.8" stroke-linejoin="miter"/>
<polygon points="175.2,508.0 177.5,512.0 172.9,512.0" fill="#c05010" stroke="#111" stroke-width="0.7" stroke-linejoin="miter"/>
<polygon points="183.4,506.7 186.0,511.2 180.8,511.2" fill="none" stroke="#111" stroke-width="1.0" stroke-linejoin="miter"/>
<polygon points="185.6,508.6 188.5,513.6 182.7,513.6" fill="none" stroke="#e3202a" stroke-width="1.6" stroke-linejoin="miter"/>
<polygon points="207.3,446.5 231,446.5 231,442.1 238.5,448.9 231,455.7 231,451.3 207.3,451.3" fill="#e3141c"/>
<polygon points="249.3,512.8 411.5,512.8 330.4,372.3" fill="#fcebe4"/>
<defs><linearGradient id="tipg" x1="0" y1="0" x2="0" y2="1"><stop offset="0" stop-color="#f8dde3"/><stop offset="1" stop-color="#fcebe4"/></linearGradient></defs>
<polygon points="330.4,372.3 344.4,396.5 316.4,396.5" fill="url(#tipg)"/>
<line x1="330.4" y1="372.3" x2="411.5" y2="512.8" stroke="#6a6a6a" stroke-width="0.7"/>
<line x1="249.3" y1="512.8" x2="411.5" y2="512.8" stroke="#9a9a9a" stroke-width="0.7"/>
<line x1="403.1" y1="498.2" x2="401.2" y2="498.2" stroke="#555" stroke-width="0.6"/>
<line x1="394.6" y1="483.5" x2="392.8" y2="483.5" stroke="#555" stroke-width="0.6"/>
<line x1="386.1" y1="468.9" x2="384.3" y2="468.9" stroke="#555" stroke-width="0.6"/>
<line x1="377.7" y1="454.3" x2="375.9" y2="454.3" stroke="#555" stroke-width="0.6"/>
<line x1="369.2" y1="439.6" x2="367.4" y2="439.6" stroke="#555" stroke-width="0.6"/>
<line x1="360.8" y1="425.0" x2="359.0" y2="425.0" stroke="#555" stroke-width="0.6"/>
<line x1="352.4" y1="410.3" x2="350.6" y2="410.3" stroke="#555" stroke-width="0.6"/>
<line x1="343.9" y1="395.7" x2="342.1" y2="395.7" stroke="#555" stroke-width="0.6"/>
<line x1="335.4" y1="381.1" x2="333.6" y2="381.1" stroke="#555" stroke-width="0.6"/>
<line x1="411.5" y1="512.8" x2="411.5" y2="511.4" stroke="#777" stroke-width="0.6"/>
<line x1="394.6" y1="512.8" x2="394.6" y2="511.4" stroke="#777" stroke-width="0.6"/>
<line x1="377.7" y1="512.8" x2="377.7" y2="511.4" stroke="#777" stroke-width="0.6"/>
<line x1="360.8" y1="512.8" x2="360.8" y2="511.4" stroke="#777" stroke-width="0.6"/>
<line x1="343.9" y1="512.8" x2="343.9" y2="511.4" stroke="#777" stroke-width="0.6"/>
<line x1="327.0" y1="512.8" x2="327.0" y2="511.4" stroke="#777" stroke-width="0.6"/>
<line x1="310.1" y1="512.8" x2="310.1" y2="511.4" stroke="#777" stroke-width="0.6"/>
<line x1="293.2" y1="512.8" x2="293.2" y2="511.4" stroke="#777" stroke-width="0.6"/>
<line x1="276.3" y1="512.8" x2="276.3" y2="511.4" stroke="#777" stroke-width="0.6"/>
<line x1="259.4" y1="512.8" x2="259.4" y2="511.4" stroke="#777" stroke-width="0.6"/>
<text x="246.8" y="382.6" font-size="13.5" fill="#282d8c" font-weight="bold">d’)</text>
<text x="330.2" y="368.9" font-size="11.6" fill="#111" text-anchor="middle" stroke="#111" stroke-width="0.22">Mn/Co</text>
<text x="348.8" y="399.0" font-size="9.3" fill="#222" stroke="#222" stroke-width="0.22">0.50</text>
<text x="381.4" y="455.7" font-size="9.3" fill="#222" stroke="#222" stroke-width="0.22">0.25</text>
<text x="415.9" y="514.9" font-size="9.3" fill="#222" stroke="#222" stroke-width="0.22">0.00</text>
<text x="278.3" y="526.8" font-size="9.3" fill="#222" text-anchor="middle" stroke="#222" stroke-width="0.22">0.50</text>
<text x="345.2" y="526.7" font-size="9.3" fill="#222" text-anchor="middle" stroke="#222" stroke-width="0.22">0.75</text>
<text x="412.9" y="526.7" font-size="9.3" fill="#222" text-anchor="middle" stroke="#222" stroke-width="0.22">1.00</text>
<text x="230.9" y="526.8" font-size="11.6" fill="#111" stroke="#111" stroke-width="0.22">Ni/Co</text>
<text x="429.7" y="527.3" font-size="11.6" fill="#111" stroke="#111" stroke-width="0.22">Fe/Co</text>
<polygon points="328.8,395.6 334.1,400.9 328.8,406.1 323.6,400.9" fill="#2d2a5c" stroke="none" stroke-width="0"/>
<polygon points="335.2,405.9 340.4,411.2 335.2,416.4 329.9,411.2" fill="#2d2a5c" stroke="none" stroke-width="0"/>
<polygon points="339.4,407.9 344.6,413.1 339.4,418.4 334.1,413.1" fill="#2d2a5c" stroke="none" stroke-width="0"/>
<polygon points="356.9,438.2 361.4,442.7 356.9,447.2 352.4,442.7" fill="#4b55a8" stroke="none" stroke-width="0"/>
<circle cx="367.6" cy="450.1" r="4.6" fill="#3a3232" stroke="none" stroke-width="0"/>
<polygon points="367.1,455.1 371.6,459.6 367.1,464.1 362.6,459.6" fill="#4b55a8" stroke="none" stroke-width="0"/>
<polygon points="375.4,454.7 379.7,462.2 371.1,462.2" fill="none" stroke="#4a3a3a" stroke-width="1.4" stroke-linejoin="miter"/>
<text x="300.4" y="416.8" font-size="10.0" fill="#111" stroke="#111" stroke-width="0.22">WW</text>
<text x="309.2" y="429.3" font-size="10.0" fill="#111" stroke="#111" stroke-width="0.22">d.bl</text>
<text x="326.0" y="451.1" font-size="10.0" fill="#111" stroke="#111" stroke-width="0.22">WW</text>
<text x="333.8" y="463.6" font-size="10.0" fill="#111" stroke="#111" stroke-width="0.22">bl</text>
<text x="374.6" y="432.0" font-size="10.0" fill="#111" stroke="#111" stroke-width="0.22">QL wh</text>
<text x="402.2" y="466.4" font-size="10.0" fill="#111" stroke="#111" stroke-width="0.22">QL b+wh tripod</text>
<text x="297.5" y="487.6" font-size="10.0" fill="#111" stroke="#111" stroke-width="0.22">QL wh tripod</text>
<text x="369.3" y="490.4" font-size="10.0" fill="#111" stroke="#111" stroke-width="0.22">QL cr</text>
<text x="402.5" y="488.7" font-size="10.0" fill="#111" stroke="#111" stroke-width="0.22">QL cr tripod</text>
<text x="415.1" y="501.8" font-size="10.0" fill="#111" stroke="#111" stroke-width="0.22">QL re bck</text>
<text x="262.5" y="509.2" font-size="10.0" fill="#111" stroke="#111" stroke-width="0.22">QL re flower</text>
<text x="268.2" y="542.2" font-size="10.0" fill="#111" stroke="#111" stroke-width="0.22">QL re flower tripod</text>
<line x1="371.3" y1="445.1" x2="377.0" y2="437.7" stroke="#222" stroke-width="0.75"/>
<polygon points="380.1,433.8 378.5,439.5 377.5,437.2 375.0,436.8" fill="#222"/>
<line x1="378.0" y1="461.2" x2="394.2" y2="461.7" stroke="#222" stroke-width="0.75"/>
<polygon points="399.2,461.8 393.6,463.8 394.9,461.7 393.8,459.4" fill="#222"/>
<line x1="376.0" y1="462.0" x2="360.5" y2="477.4" stroke="#222" stroke-width="0.75"/>
<polygon points="357.0,480.9 359.3,475.5 360.0,477.9 362.5,478.6" fill="#222"/>
<line x1="358.6" y1="506.2" x2="327.0" y2="506.2" stroke="#7a6a62" stroke-width="1.3"/>
<polygon points="321.0,506.2 327.5,504.0 326.3,506.2 327.5,508.4" fill="#111"/>
<line x1="384.2" y1="505.7" x2="360.4" y2="534.5" stroke="#222" stroke-width="0.75"/>
<polygon points="357.2,538.4 359.0,532.8 359.9,535.1 362.4,535.6" fill="#222"/>
<circle cx="367.5" cy="506.2" r="4.7" fill="#e3202a" stroke="none" stroke-width="0"/>
<circle cx="382.0" cy="506.0" r="4.7" fill="#b2651e" stroke="none" stroke-width="0"/>
<circle cx="387.0" cy="501.5" r="4.7" fill="#b2651e" stroke="none" stroke-width="0"/>
<circle cx="392.0" cy="506.0" r="4.7" fill="#b2651e" stroke="none" stroke-width="0"/>
<circle cx="395.0" cy="505.5" r="4.2" fill="#b2651e" stroke="none" stroke-width="0"/>
<polygon points="386.5,500.8 390.5,507.8 382.5,507.8" fill="none" stroke="#e3202a" stroke-width="1.2" stroke-linejoin="miter"/>
<polygon points="397.5,491.9 401.0,497.9 394.0,497.9" fill="#e3202a" stroke="none" stroke-width="0" stroke-linejoin="miter"/>
<polygon points="397.0,492.8 403.3,498.5 399.0,505.2 393.2,500.0" fill="#111"/>
<circle cx="403.0" cy="507.0" r="4.5" fill="#e3202a" stroke="none" stroke-width="0"/>
<circle cx="406.4" cy="503.7" r="4.5" fill="#e3202a" stroke="none" stroke-width="0"/>
<circle cx="409.0" cy="510.0" r="4.5" fill="#e3202a" stroke="none" stroke-width="0"/>
<text x="22.5" y="30.8" font-size="13.5" fill="#282d8c" font-weight="bold">a)</text>
<text x="22.5" y="212.4" font-size="13.5" fill="#282d8c" font-weight="bold">b)</text>
<text x="249.0" y="212.4" font-size="13.5" fill="#282d8c" font-weight="bold">c)</text>
<text x="22.3" y="383.2" font-size="13.5" fill="#282d8c" font-weight="bold">d)</text>
</svg>
</body></html>
